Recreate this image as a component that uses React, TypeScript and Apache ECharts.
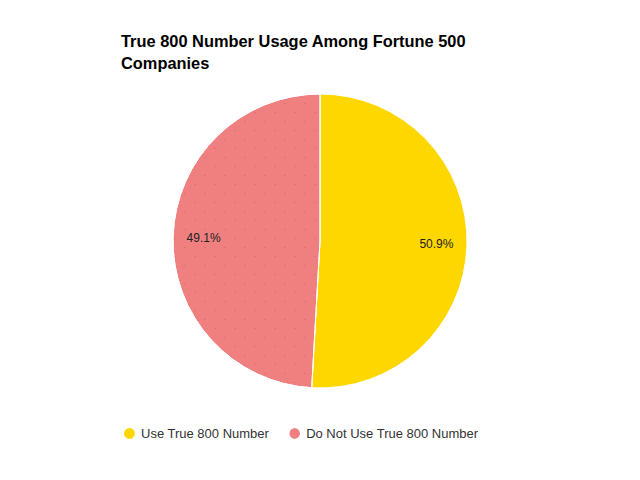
import React, { useEffect, useRef } from "react";
import * as echarts from "echarts";

const categories = ["Use True 800 Number", "Do Not Use True 800 Number"];
const values = [50.9, 49.1];
const colors = ["#FFD700", "#F08080"];

const App: React.FC = () => {
  const chartRef = useRef<HTMLDivElement | null>(null);

  useEffect(() => {
    document.body.style.margin = "0";
    if (!chartRef.current) return;
    const chart = echarts.init(chartRef.current, null, { renderer: "svg" });

    const data = categories.map((name, i) => ({
      name,
      value: values[i],
      itemStyle: {
        color: colors[i],
        decal:
          i === 1
            ? {
                symbol: "circle",
                symbolSize: 0.12,
                color: "rgba(170, 60, 60, 0.5)",
                dashArrayX: [[10, 10], [0, 10, 10, 0]],
                dashArrayY: [9, 0],
                rotation: 0,
              }
            : "none",
      },
    }));

    chart.setOption({
      animation: false,
      textStyle: { fontFamily: "Liberation Sans, Arial, sans-serif" },
      title: {
        text: "True 800 Number Usage Among Fortune 500\nCompanies",
        left: 116,
        top: 25,
        textStyle: {
          fontSize: 16.4,
          fontWeight: "bold",
          color: "#000",
          lineHeight: 22,
        },
      },
      legend: {
        data: categories,
        left: 117,
        top: 421,
        icon: "circle",
        itemWidth: 13,
        itemHeight: 13,
        itemGap: 18,
        textStyle: { fontSize: 13, color: "#333" },
      },
      series: [
        {
          type: "pie",
          center: [320, 241],
          radius: 147,
          startAngle: 90,
          clockwise: true,
          label: { show: false },
          labelLine: { show: false },
          itemStyle: { borderColor: "#fff", borderWidth: 1 },
          emphasis: { disabled: true },
          data,
        },
        {
          type: "pie",
          center: [320, 241],
          radius: [80, 147],
          startAngle: 90,
          clockwise: true,
          silent: true,
          legendHoverLink: false,
          itemStyle: { color: "transparent" },
          label: {
            show: true,
            position: "inside",
            formatter: (p: any) => p.percent.toFixed(1) + "%",
            fontSize: 12,
            color: "#222",
          },
          labelLine: { show: false },
          emphasis: { disabled: true },
          data: categories.map((name, i) => ({ name: name + " ", value: values[i] })),
        },
      ],
    });

    return () => {
      chart.dispose();
    };
  }, []);

  return <div ref={chartRef} style={{ width: "640px", height: "480px" }} />;
};

export default App;
